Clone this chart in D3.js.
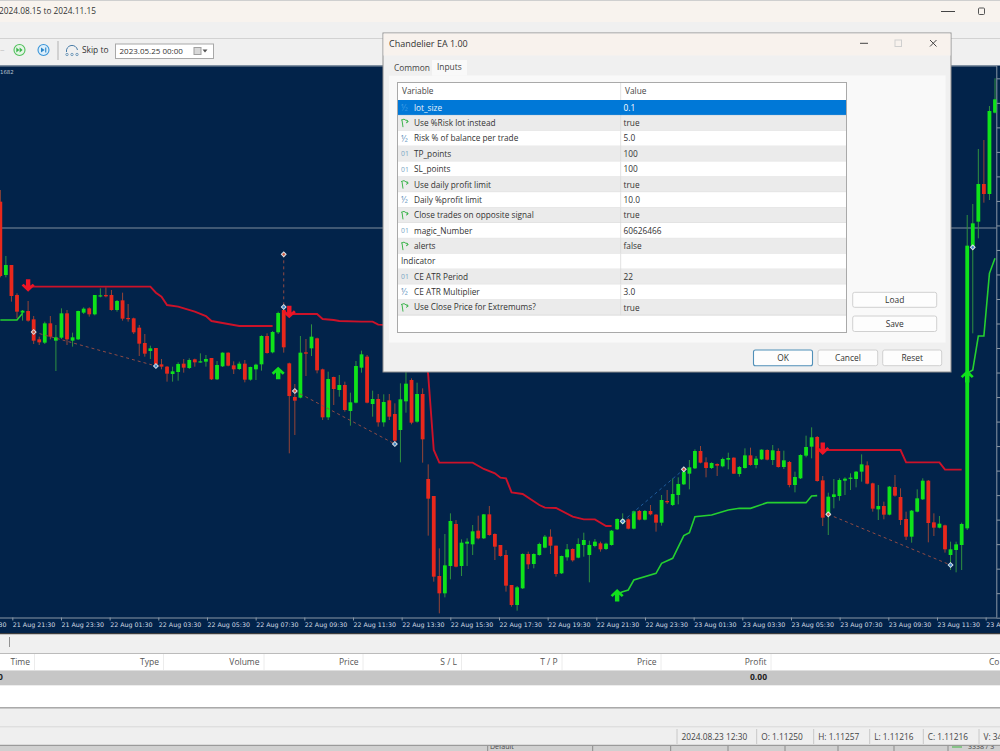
<!DOCTYPE html>
<html>
<head>
<meta charset="utf-8">
<script src="https://cdn.jsdelivr.net/npm/d3@7"></script>
<style>
html,body{margin:0;padding:0;background:#f0f0f0;overflow:hidden}
svg{display:block}
</style>
</head>
<body>
<svg id="c" width="1000" height="751"></svg>
<script>
// ---- candle values (chart points above the bottom of the price pane)
const opens=[1255,1035,1065,975,922,927,902,842,832,890,
838,847,920,838,842,922,935,917,972,975,
975,930,959,906,905,877,831,807,816,767,
760,738,744,769,756,782,774,775,786,722,
761,802,764,753,769,721,752,767,852,803,
863,930,770,669,667,803,815,845,752,608,
729,690,705,627,652,757,790,648,663,593,
659,618,570,656,720,595,678,423,372,132,
80,162,288,162,229,227,268,245,317,258,
225,195,105,45,95,198,168,195,217,250,
223,140,188,213,187,225,195,222,230,213,
225,272,290,302,274,327,301,327,316,292,
357,345,375,407,439,455,507,473,456,468,
461,481,487,438,456,494,465,482,510,480,
507,459,474,405,425,493,520,549,419,313,
369,372,418,424,423,445,464,410,332,342,
316,399,369,303,250,325,362,418,293,277,
284,195,210,225,275,1120,1195,1308,1278,1522];
const closes=[1032,1065,972,925,928,898,838,833,890,850,
848,920,842,848,927,934,917,975,974,971,
930,957,904,903,863,829,799,815,768,760,
739,746,768,757,780,773,776,783,722,765,
802,763,752,769,721,759,766,852,801,864,
921,818,672,658,802,799,850,749,608,723,
693,705,630,653,762,797,652,663,593,654,
610,538,662,709,592,678,542,364,130,80,
164,297,160,232,235,266,245,317,255,220,
192,103,45,98,198,167,198,228,250,223,
138,192,212,179,228,240,225,235,212,229,
268,303,302,274,326,301,327,317,292,360,
353,378,408,445,458,507,472,456,471,463,
483,486,439,459,494,465,484,511,481,509,
459,479,405,429,495,519,548,417,307,370,
377,420,424,427,445,467,409,334,342,316,
400,373,300,250,328,365,418,291,277,289,
212,212,227,288,1123,1190,1308,1278,1527,1562];
const highs=[1290,1092,1065,980,930,957,912,850,895,912,
885,935,930,862,928,938,938,975,995,998,
990,960,982,948,907,885,858,823,816,783,
762,760,773,783,785,784,800,795,786,777,
803,803,776,775,780,760,769,854,860,867,
925,942,772,708,852,843,887,847,754,745,
730,735,715,682,777,808,795,688,678,677,
678,650,710,770,725,712,695,467,372,215,
258,320,300,242,245,285,313,318,342,260,
225,210,105,102,200,205,200,232,255,272,
223,193,228,215,245,262,238,243,235,232,
270,305,320,305,328,330,330,345,318,375,
390,425,428,455,480,512,522,488,473,470,
487,502,488,462,515,517,492,512,512,525,
515,508,477,445,497,553,578,552,432,382,
423,425,428,440,447,497,476,412,405,355,
402,435,395,325,330,392,425,420,320,312,
286,235,235,292,1215,1248,1413,1440,1542,1625];
const lows=[1028,1028,955,905,898,895,828,825,828,842,
747,843,825,820,840,918,910,914,968,968,
928,925,898,895,858,792,790,783,760,752,
715,715,718,742,753,760,772,760,720,720,
759,761,738,750,713,718,720,748,799,800,
858,802,500,555,665,732,792,740,600,600,
645,670,625,583,650,742,650,610,580,580,
600,528,473,622,587,592,472,253,115,20,
68,122,158,132,162,195,242,243,253,180,
190,85,40,28,93,153,155,193,215,198,
130,138,178,175,185,190,113,218,205,210,
223,270,288,272,272,299,299,314,265,283,
348,342,347,405,392,453,470,428,453,432,
458,452,438,430,454,463,455,480,479,465,
457,453,398,383,423,488,485,415,282,255,
335,358,375,390,398,415,407,325,300,302,
314,370,285,240,232,323,360,233,252,275,
202,150,143,150,270,860,1145,1252,1260,1520];

// ---- Chandelier Exit stop lines, bar index + level
const redA_bar=[5,27,28,29,30,32,35,37,38,41,43,49];
const redA_val=[1000,1000,982,970,945,940,925,912,897,888,882,882];
const redB_bar=[52,57,58,60,61,65,67,68,76,77,78,79,85,87,89,90,91,92,94,97,98,100,103,105,107,109,110];
const redB_val=[918,918,903,900,897,895,895,886,880,735,510,472,472,453,440,427,425,383,378,345,337,336,310,302,302,282,282];
const redC_bar=[148,162,163,169,170,173];
const redC_val=[510,510,473,473,451,451];
const greenA_bar=[0,3,4];
const greenA_val=[900,900,920];
const greenB_bar=[111,112,113,114,118,119,121,123,124,125,128,131,133,135,138,145,146,147];
const greenB_val=[78,85,90,120,140,170,185,253,262,310,315,330,335,335,352,352,372,373];
const greenC_bar=[174,175,176,177,178,179];
const greenC_val=[740,750,852,852,1040,1085];

// ---- signal arrows
const downArrow_bar=[5,52,148];
const downArrow_val=[985,905,495];
const upArrow_bar=[50,111,174];
const upArrow_val=[760,93,750];

// ---- trades: entry/exit diamonds and joining dashed lines
const tradeFrom_bar=[6,51,53,112,149];
const tradeFrom_val=[864,1097,687,296,317];
const tradeTo_bar=[28,51,71,123,171];
const tradeTo_val=[762,939,528,452,165];
const tradeColor=["red","red","red","blue","red"];
const extraDiamond_bar=[175];
const extraDiamond_val=[1118];

// ---- labels
const timeLabels=["21 Aug 19:30","21 Aug 21:30","21 Aug 23:30","22 Aug 01:30","22 Aug 03:30","22 Aug 05:30","22 Aug 07:30","22 Aug 09:30","22 Aug 11:30","22 Aug 13:30","22 Aug 15:30","22 Aug 17:30","22 Aug 19:30","22 Aug 21:30","22 Aug 23:30","23 Aug 01:30","23 Aug 03:30","23 Aug 05:30","23 Aug 07:30","23 Aug 09:30","23 Aug 11:30","23 Aug 13:30"];
const rowNames=["lot_size","Use %Risk lot instead","Risk % of balance per trade","TP_points","SL_points","Use daily profit limit","Daily %profit limit","Close trades on opposite signal","magic_Number","alerts","Indicator","CE ATR Period","CE ATR Multiplier","Use Close Price for Extremums?"];
const rowValues=["0.1","true","5.0","100","100","true","10.0","true","60626466","false","","22","3.0","true"];
const rowKinds=["d","b","d","i","i","b","d","b","i","b","","i","d","b"];
const colHeads=["Time","Type","Volume","Price","S / L","T / P","Price","Profit"];
const colRight=[34,163,263.5,362.5,461,561.5,660.5,770.5];
const statusTexts=["2024.08.23 12:30","O: 1.11250","H: 1.11257","L: 1.11216","C: 1.11216","V: 34"];
const statusX=[677,756.7,813.7,869.7,923.3,979];

const UI='"Open Sans","Noto Sans",sans-serif';
const svg=d3.select("#c");
function rect(g,x,y,w,h,fill,stroke,rx){const r=g.append("rect").attr("x",x).attr("y",y).attr("width",w).attr("height",h).attr("fill",fill||"none");if(stroke)r.attr("stroke",stroke).attr("stroke-width",1);if(rx)r.attr("rx",rx);return r;}
function hline(g,x1,x2,y,c,w){return g.append("line").attr("x1",x1).attr("x2",x2).attr("y1",y).attr("y2",y).attr("stroke",c).attr("stroke-width",w||1);}
function vline(g,x,y1,y2,c,w){return g.append("line").attr("x1",x).attr("x2",x).attr("y1",y1).attr("y2",y2).attr("stroke",c).attr("stroke-width",w||1);}
function txt(g,x,y,s,o){o=o||{};return g.append("text").attr("x",x).attr("y",y+0.7).text(s).attr("font-family",o.f||UI).attr("font-size",o.s||8.6).attr("fill",o.c||"#333").attr("text-anchor",o.a||"start").attr("font-weight",o.w||400).attr("dominant-baseline","middle");}

// ---- window background
const win=svg.append("g");
rect(win,0,0,1000,751,"#f0f0f0");
rect(win,0,0,1000,22,"#f8f3ee");
hline(win,0,1000,0.5,"#cfcfcf");
txt(win,-1,11,"2024.08.15 to 2024.11.15",{s:8.3,c:"#333"});
hline(win,941,955,11.5,"#444",1);
rect(win,978.5,8,6,6.5,"none","#555",1);
hline(win,0,1000,38.5,"#d2d2d2");
txt(win,0,50,"–",{c:"#c4c4c4",s:9});
win.append("circle").attr("cx",19.5).attr("cy",50).attr("r",5.5).attr("fill","#e4f5e6").attr("stroke","#52c05c").attr("stroke-width",1.1);
win.append("path").attr("d","M16.3,47.6l3,2.4l-3,2.4z M19.6,47.6l3,2.4l-3,2.4z").attr("fill","#3ab54a");
win.append("circle").attr("cx",43.5).attr("cy",50).attr("r",5.5).attr("fill","#dceefb").attr("stroke","#3a95d8").attr("stroke-width",1.1);
win.append("path").attr("d","M41,47.4l3.6,2.6l-3.6,2.6z M45.2,47.4h1.1v5.2h-1.1z").attr("fill","#2a85c8");
vline(win,58,41,60,"#bdbdbd",1.2);
win.append("path").attr("d","M66.5,52 a5.5,5.5 0 0 1 11,-2").attr("fill","none").attr("stroke","#4a7da8").attr("stroke-width",1);
[67,72,77].forEach(x=>win.append("circle").attr("cx",x).attr("cy",54.5).attr("r",1.2).attr("fill","none").attr("stroke","#5a8ab0").attr("stroke-width",0.8));
txt(win,82,50.5,"Skip to",{s:8.4,c:"#333"});
rect(win,115.5,44,98,14.5,"#fff","#a8a8a8");
txt(win,119.5,51,"2023.05.25 00:00",{s:8,c:"#333"});
rect(win,194,47.5,7,7,"#d8d8d8","#a0a0a0");
win.append("path").attr("d","M202.5,49.5h5l-2.5,3z").attr("fill","#555");

// ---- price chart
const chartTop=65.5, chartBottom=633;
const x=d3.scaleLinear().domain([0,179]).range([0.33,995]);
const y=d3.scaleLinear().domain([0,1665]).range([620,65]);
const chart=svg.append("g");
svg.append("defs").append("clipPath").attr("id","plot").append("rect").attr("x",0).attr("y",66).attr("width",996.5).attr("height",551);
rect(chart,0,chartTop,1000,chartBottom-chartTop,"#02234a");
hline(chart,0,997,66,"#8a98a6",1);
vline(chart,996.8,66,617.5,"#8a98a6",1);
txt(chart,0,72,"1682",{s:5.4,c:"#b9c4cf",f:'"DejaVu Sans",sans-serif'});

// right price axis (tick marks only; the labels fall outside the photographed window)
const yAxisG=chart.append("g").attr("transform","translate(996.8,0)").call(d3.axisRight(y).tickValues(d3.range(1625,0,-73.55)).tickSize(4).tickFormat(""));
yAxisG.select(".domain").remove();
yAxisG.selectAll("line").attr("stroke","#8a98a6");

// bottom time axis
const firstTick=-6.6, barsPerLabel=8.758;
const tickBars=timeLabels.map((_,i)=>firstTick+i*barsPerLabel);
const xAxisG=chart.append("g").attr("transform","translate(0,617.5)").call(d3.axisBottom(x).tickValues(tickBars).tickSize(3).tickPadding(0).tickFormat((d,i)=>timeLabels[i]));
xAxisG.select(".domain").attr("stroke","#8a98a6").attr("d","M0,0.5H997");
xAxisG.selectAll("line").attr("stroke","#8a98a6");
xAxisG.selectAll("text").attr("text-anchor","start").attr("x",0).attr("y",7.8).attr("dy","0").attr("dominant-baseline","middle").attr("fill","#d5dde5").attr("font-family",'"DejaVu Sans",sans-serif').attr("font-size",6.3);

const plot=chart.append("g").attr("clip-path","url(#plot)");
// current-price line
hline(plot,0,997,y(1176),"#7f8e9d",1);

const bars=d3.range(opens.length);
const isUp=i=>closes[i]>=opens[i];
plot.append("g").selectAll("line").data(bars).join("line")
  .attr("x1",i=>x(i)).attr("x2",i=>x(i)).attr("y1",i=>y(highs[i])).attr("y2",i=>y(lows[i]))
  .attr("stroke",i=>isUp(i)?"#2f9140":"#964436").attr("stroke-width",1);
plot.append("g").selectAll("rect").data(bars).join("rect")
  .attr("x",i=>x(i)-1.9).attr("width",3.8)
  .attr("y",i=>y(Math.max(opens[i],closes[i])))
  .attr("height",i=>Math.max(1.2,Math.abs(y(opens[i])-y(closes[i]))))
  .attr("fill",i=>isUp(i)?"#0fe31a":"#e8281c");

// stop lines
const lineGen=d3.line().x(d=>x(d[0])).y(d=>y(d[1]));
const lineOf=(b,v)=>b.map((d,i)=>[d,v[i]]);
[[redA_bar,redA_val],[redB_bar,redB_val],[redC_bar,redC_val]].forEach(s=>
  plot.append("path").datum(lineOf(s[0],s[1])).attr("d",lineGen).attr("fill","none").attr("stroke","#cc1229").attr("stroke-width",1.9));
[[greenA_bar,greenA_val],[greenB_bar,greenB_val],[greenC_bar,greenC_val]].forEach(s=>
  plot.append("path").datum(lineOf(s[0],s[1])).attr("d",lineGen).attr("fill","none").attr("stroke","#25d030").attr("stroke-width",1.6));

// dashed trade lines
plot.append("g").selectAll("line").data(tradeFrom_bar.map((_,i)=>i)).join("line")
  .attr("x1",i=>x(tradeFrom_bar[i])).attr("y1",i=>y(tradeFrom_val[i]))
  .attr("x2",i=>x(tradeTo_bar[i])).attr("y2",i=>y(tradeTo_val[i]))
  .attr("stroke",i=>tradeColor[i]==="red"?"#8f4a44":"#1f5c9c").attr("stroke-width",1).attr("stroke-dasharray","3,3");

// arrows
const upShape="M0,0 L6.5,6.2 L4.6,8 L2.2,5.8 L2.2,12.5 L-2.2,12.5 L-2.2,5.8 L-4.6,8 L-6.5,6.2 Z";
const downShape="M0,0 L6.5,-6.2 L4.6,-8 L2.2,-5.8 L2.2,-12.5 L-2.2,-12.5 L-2.2,-5.8 L-4.6,-8 L-6.5,-6.2 Z";
plot.append("g").selectAll("path").data(upArrow_bar.map((_,i)=>i)).join("path")
  .attr("d",upShape).attr("fill","#11e01c").attr("transform",i=>`translate(${x(upArrow_bar[i])},${y(upArrow_val[i])})`);
plot.append("g").selectAll("path").data(downArrow_bar.map((_,i)=>i)).join("path")
  .attr("d",downShape).attr("fill","#ee1526").attr("transform",i=>`translate(${x(downArrow_bar[i])},${y(downArrow_val[i])})`);

// round-ish trade markers
function diamond(b,v,c){
  plot.append("path").attr("d",d3.symbol(d3.symbolSquare,11)).attr("transform",`translate(${x(b)},${y(v)}) rotate(45)`).attr("fill",c).attr("stroke","#d8e0e6").attr("stroke-width",1);
}
tradeFrom_bar.forEach((b,i)=>diamond(b,tradeFrom_val[i],tradeColor[i]==="red"?"#d0583f":"#3f86c6"));
tradeTo_bar.forEach((b,i)=>diamond(b,tradeTo_val[i],tradeColor[i]==="red"?"#3f86c6":"#d0583f"));
extraDiamond_bar.forEach((b,i)=>diamond(b,extraDiamond_val[i],"#3f86c6"));

// ---- lower panels
const low=svg.append("g");
hline(low,0,1000,633.8,"#3d3d3d",1.4);
rect(low,0,634.5,1000,19,"#f0f0f0");
vline(low,9.5,637,647,"#7a7a7a",0.8);
hline(low,0,1000,653.5,"#bbb");
rect(low,0,654,1000,16.5,"#fff");
colHeads.forEach((h,i)=>{
  txt(low,colRight[i]-4,662,h,{s:8.5,c:"#555",a:"end"});
  vline(low,colRight[i]+0.5,654,670,"#ececec");
});
txt(low,989,662,"Co",{s:8.5,c:"#555"});
rect(low,0,670.5,1000,15,"#c6c6c6");
txt(low,-2,677.5,"0",{s:8.5,c:"#222",w:700});
txt(low,767,677.5,"0.00",{s:8.5,c:"#222",a:"end",w:700});
rect(low,0,685.5,1000,22.5,"#fff");
// bottom strip first, so the status panel covers the tops of its clipped words
rect(low,0,745,1000,6,"#d0d0d0");
[487.7,592.7,670.7,728,785,838,894,948].forEach(d=>vline(low,d,746,751,"#8a8a8a"));
txt(low,490,746,"Default",{s:7,c:"#444"});
txt(low,968,746,"3338 / 3",{s:7,c:"#444"});
hline(low,952,962,747,"#6fbf70",1.5);
hline(low,0,1000,708,"#555",1);
rect(low,0,708.5,1000,18,"#efefef");
hline(low,0,1000,727,"#cfcfcf");
rect(low,0,727.5,1000,17.5,"#efefef");
hline(low,0,1000,745.3,"#8d8d8d",1);
statusX.forEach((d,i)=>{
  vline(low,d,729,744,"#c8c8c8");
  txt(low,d+4.5,737.5,statusTexts[i],{s:8.3,c:"#444"});
});

// ---- dialog
const dlg=svg.append("g");
rect(dlg,383,33,568,339,"#f0f0f0","#8f8f8f");
rect(dlg,383.5,33.5,567,22,"#f8f2ed");
txt(dlg,389,43.5,"Chandelier EA 1.00",{s:9,c:"#333"});
hline(dlg,860,868,43.3,"#444",1);
rect(dlg,895,40,6.5,6.5,"none","#cfcfcf");
dlg.append("path").attr("d","M930,40 L936.5,46.5 M936.5,40 L930,46.5").attr("stroke","#444").attr("stroke-width",1).attr("fill","none");
rect(dlg,389,75.5,556.5,267,"#f9f9f9");
rect(dlg,389.5,62,43,13.5,"#f0f0f0");
rect(dlg,432,60,35,15.5,"#f9f9f9");
txt(dlg,394,68.5,"Common",{s:8.4,c:"#444"});
txt(dlg,437,67,"Inputs",{s:8.4,c:"#444"});
rect(dlg,397.5,82.5,449,250,"#fff","#a9a9a9");
txt(dlg,402,91.5,"Variable",{s:8.3,c:"#444"});
txt(dlg,625,91.5,"Value",{s:8.3,c:"#444"});
vline(dlg,620.7,83,100,"#e2e2e2");
const rowH=15.37, rowTop=100;
const rowsG=dlg.append("g");
rowNames.forEach((name,i)=>{
  const t=rowTop+i*rowH, cy=t+rowH/2+0.1, sel=i===0;
  rect(rowsG,398,t,448,rowH,sel?"#0078d7":(i%2?"#ebebeb":"#fff"));
  hline(rowsG,398,846,t+rowH,"#d6d6d6",0.7);
  vline(rowsG,620.7,t,t+rowH,sel?"#0078d7":"#d9d9d9",0.8);
  const kind=rowKinds[i], col=sel?"#e6f2fb":"#333";
  if(kind==="i") txt(rowsG,401,cy,"01",{s:6.8,c:"#7aa6c4"});
  if(kind==="d") txt(rowsG,401,cy,"½",{s:8.8,c:sel?"#3f9be4":"#5f93bd"});
  if(kind==="b") rowsG.append("path").attr("d",`M403,${cy+4} L402,${cy-3} M401,${cy-3} L404,${cy-4} L408,${cy-1.5} M406.8,${cy-3.4} L408.2,${cy-1.4} L406,${cy-0.2}`).attr("fill","none").attr("stroke","#3fb54f").attr("stroke-width",1);
  txt(rowsG,kind?414:401,cy,name,{s:8.25,c:col});
  txt(rowsG,623.5,cy,rowValues[i],{s:8.3,c:sel?"#fff":"#333"});
});
[["Load",852.7,292.3,84,15],["Save",852.7,316,84,15.5],["Cancel",818,350,59.7,15.7],["Reset",882.7,350,59,15.7]].forEach(b=>{
  rect(dlg,b[1],b[2],b[3],b[4],"#fdfdfd","#d0d0d0",2);
  txt(dlg,b[1]+b[3]/2,b[2]+b[4]/2,b[0],{s:8.4,c:"#333",a:"middle"});
});
rect(dlg,753.5,350,59,15.7,"#fdfdfd","#4f8fb8",2).attr("stroke-width",1.1);
txt(dlg,783,357.8,"OK",{s:8.4,c:"#333",a:"middle"});
</script>
</body>
</html>
